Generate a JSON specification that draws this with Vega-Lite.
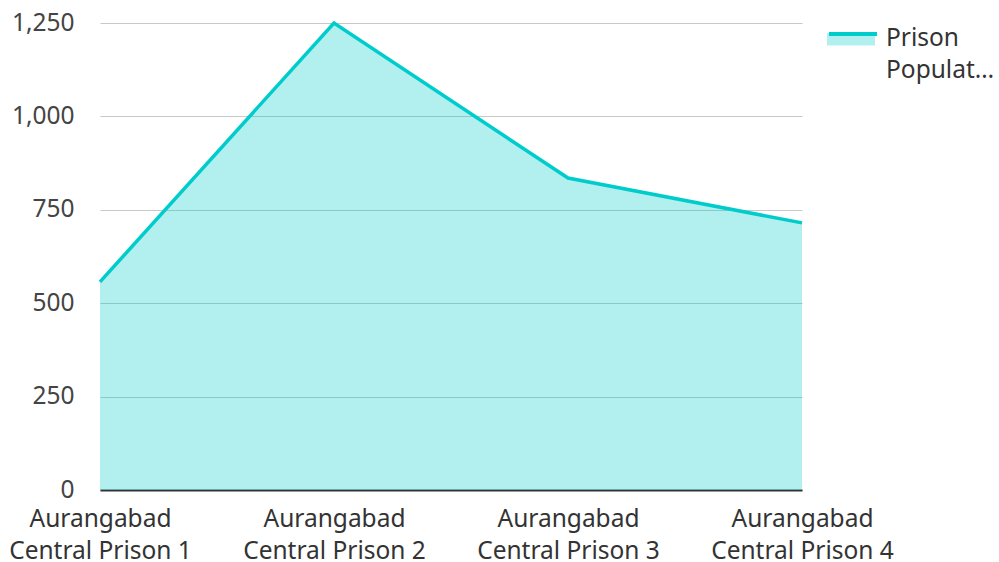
{
  "$schema": "https://vega.github.io/schema/vega-lite/v6.json",
  "width": 702,
  "height": 467,
  "autosize": "none",
  "padding": {"left": 100, "top": 23, "right": 197, "bottom": 72},
  "background": "white",
  "config": {
    "font": "Noto Sans",
    "view": {"stroke": null},
    "axis": {"labelFont": "Noto Sans", "labelFontSize": 24.5, "labelColor": "#444444", "titleFont": "Noto Sans"},
    "legend": {"labelFont": "Noto Sans", "labelFontSize": 24.5, "labelColor": "#333333"}
  },
  "data": {
    "values": [
      {"prison": "Aurangabad Central Prison 1", "population": 557, "series": "Prison Population"},
      {"prison": "Aurangabad Central Prison 2", "population": 1250, "series": "Prison Population"},
      {"prison": "Aurangabad Central Prison 3", "population": 835, "series": "Prison Population"},
      {"prison": "Aurangabad Central Prison 4", "population": 715, "series": "Prison Population"}
    ]
  },
  "encoding": {
    "x": {
      "field": "prison", "type": "ordinal", "sort": null,
      "scale": {"type": "point", "padding": 0},
      "axis": {
        "title": null, "labelAngle": 0, "ticks": false, "grid": false,
        "domain": true, "domainColor": "#333333", "domainWidth": 2,
        "labelPadding": 17, "labelLineHeight": 32, "labelBaseline": "top",
        "labelLimit": 400, "labelOverlap": false,
        "labelExpr": "['Aurangabad', slice(datum.label, 11)]",
        "labelColor": "#333333"
      }
    },
    "y": {
      "field": "population", "type": "quantitative",
      "scale": {"domain": [0, 1250], "nice": false},
      "axis": {
        "title": null, "values": [0, 250, 500, 750, 1000, 1250],
        "ticks": false, "domain": false, "labelPadding": 26,
        "gridColor": "#c8c8c8", "gridWidth": 1.2, "format": ",d"
      }
    }
  },
  "layer": [
    {
      "mark": {"type": "area", "opacity": 0.3},
      "encoding": {
        "fill": {
          "field": "series", "type": "nominal",
          "scale": {"range": ["#00cccc"]},
          "legend": {
            "orient": "none", "legendX": 727, "legendY": -22,
            "title": null, "symbolType": "M-1,0.33H1V0.85H-1Z", "symbolSize": 2304,
            "symbolOpacity": 0.3, "labelExpr": "''", "symbolStrokeWidth": 0
          }
        }
      }
    },
    {
      "mark": {"type": "line", "strokeWidth": 3.5, "color": "#00cccc"},
      "encoding": {
        "stroke": {
          "field": "series", "type": "nominal",
          "scale": {"range": ["#00cccc"]},
          "legend": {
            "orient": "none", "legendX": 727, "legendY": -22,
            "title": null, "symbolType": "M-1,0.29H1", "symbolSize": 2304,
            "symbolStrokeWidth": 4, "labelOffset": 7,
            "labelBaseline": "top", "labelLimit": 200,
            "labelExpr": "['Prison', 'Populat…']",
            "encode": {"labels": {"update": {"lineHeight": {"value": 32}}}}
          }
        }
      }
    }
  ],
  "resolve": {"scale": {"fill": "independent", "stroke": "independent"}}
}
